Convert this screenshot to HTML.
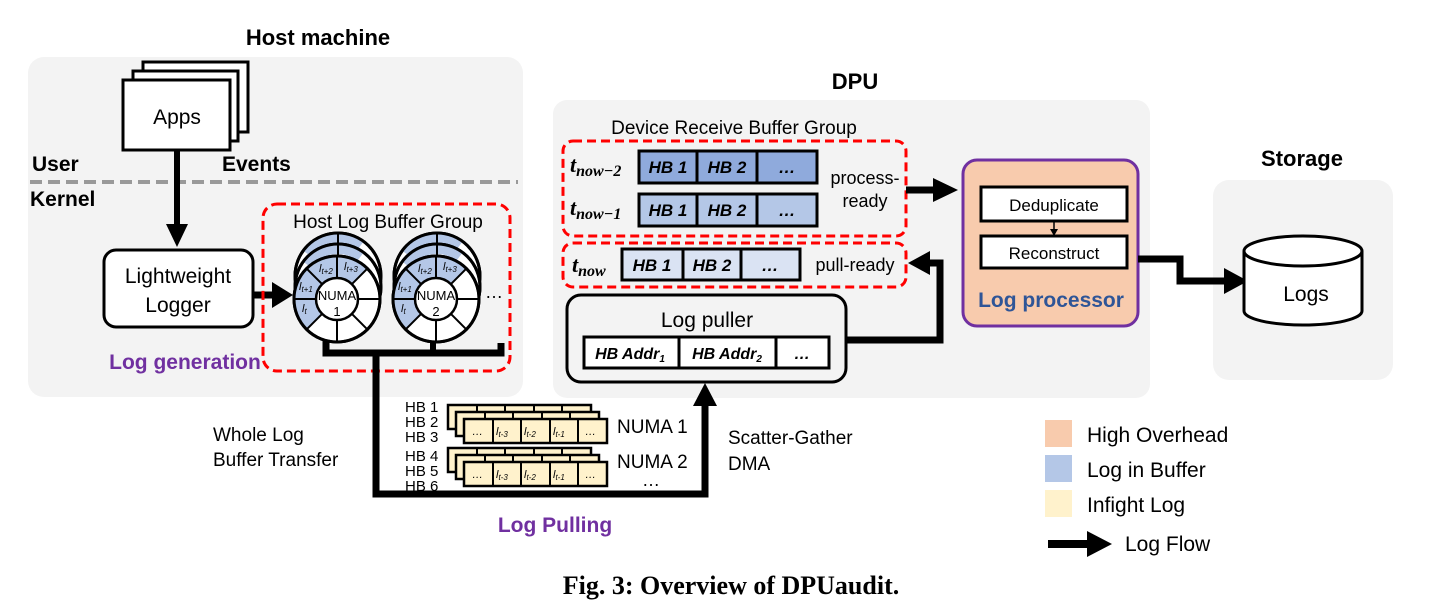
<!DOCTYPE html>
<html><head><meta charset="utf-8"><style>
html,body{margin:0;padding:0;background:#fff}
svg{display:block}
text{font-family:"Liberation Sans","DejaVu Sans",sans-serif}
.b{font-weight:bold}
.serif{font-family:"Liberation Serif",serif}
</style></head><body>
<svg width="1440" height="614" viewBox="0 0 1440 614" xmlns="http://www.w3.org/2000/svg">
<defs>
<g id="ring">
  <circle r="43" fill="#fff" stroke="#000" stroke-width="3"/>
  <circle r="31" fill="none" stroke="#b4c7e7" stroke-width="24" stroke-dasharray="97.4 97.4" stroke-dashoffset="-73"/>
  <circle r="43" fill="none" stroke="#000" stroke-width="3"/>
  <g stroke="#000" stroke-width="2">
    <line x1="21" y1="0" x2="43" y2="0"/><line x1="-21" y1="0" x2="-43" y2="0"/>
    <line x1="0" y1="21" x2="0" y2="43"/><line x1="0" y1="-21" x2="0" y2="-43"/>
    <line x1="14.8" y1="14.8" x2="30.4" y2="30.4"/><line x1="-14.8" y1="14.8" x2="-30.4" y2="30.4"/>
    <line x1="14.8" y1="-14.8" x2="30.4" y2="-30.4"/><line x1="-14.8" y1="-14.8" x2="-30.4" y2="-30.4"/>
  </g>
  <circle r="21" fill="#fff" stroke="#000" stroke-width="2.5"/>
</g>
<g id="ringback">
  <circle r="43" fill="#fff" stroke="#000" stroke-width="3"/>
  <circle r="38" fill="none" stroke="#b4c7e7" stroke-width="10" stroke-dasharray="0 143 60 200"/>
  <circle r="43" fill="none" stroke="#000" stroke-width="3"/>
  <line x1="0" y1="-43" x2="0" y2="-20" stroke="#000" stroke-width="2"/>
</g>
<g id="row">
  <rect x="0" y="0" width="143" height="24" fill="#fff2cc" stroke="#000" stroke-width="2.5"/>
  <g stroke="#000" stroke-width="2"><line x1="29" y1="0" x2="29" y2="24"/><line x1="57" y1="0" x2="57" y2="24"/><line x1="86" y1="0" x2="86" y2="24"/><line x1="114" y1="0" x2="114" y2="24"/></g>
</g>
</defs>

<!-- panels -->
<rect x="28" y="57" width="495" height="340" rx="16" fill="#f3f3f3"/>
<rect x="553" y="100" width="597" height="298" rx="14" fill="#f3f3f3"/>
<rect x="1213" y="180" width="180" height="200" rx="16" fill="#f3f3f3"/>

<text x="318" y="45" font-size="22" text-anchor="middle" class="b">Host machine</text>
<text x="855" y="89" font-size="22" text-anchor="middle" class="b">DPU</text>
<text x="1302" y="166" font-size="22" text-anchor="middle" class="b">Storage</text>

<!-- apps -->
<rect x="143" y="62" width="105" height="70" fill="#fff" stroke="#000" stroke-width="3"/>
<rect x="133" y="71" width="105" height="70" fill="#fff" stroke="#000" stroke-width="3"/>
<rect x="123" y="80" width="107" height="70" fill="#fff" stroke="#000" stroke-width="3"/>
<text x="177" y="124" font-size="21" text-anchor="middle">Apps</text>
<text x="32" y="171" font-size="21" class="b">User</text>
<text x="222" y="171" font-size="21" class="b">Events</text>
<line x1="30" y1="182" x2="518" y2="182" stroke="#999" stroke-width="4" stroke-dasharray="12 6"/>
<text x="30" y="206" font-size="21" class="b">Kernel</text>
<line x1="177" y1="150" x2="177" y2="225" stroke="#000" stroke-width="6"/>
<polygon points="166,224 188,224 177,247" fill="#000"/>

<rect x="104" y="250" width="149" height="77" rx="12" fill="#fff" stroke="#000" stroke-width="3"/>
<text x="178" y="283" font-size="21" text-anchor="middle">Lightweight</text>
<text x="178" y="312" font-size="21" text-anchor="middle">Logger</text>
<text x="185" y="369" font-size="21" text-anchor="middle" fill="#7030a0" class="b">Log generation</text>
<line x1="253" y1="295" x2="275" y2="295" stroke="#000" stroke-width="7"/>
<polygon points="272,282 293,295 272,308" fill="#000"/>

<!-- host log buffer group -->
<rect x="263" y="204" width="247" height="167" rx="14" fill="none" stroke="#f00" stroke-width="3" stroke-dasharray="9 5"/>
<text x="388" y="228" font-size="19" text-anchor="middle">Host Log Buffer Group</text>
<use href="#ringback" x="338" y="276"/>
<use href="#ringback" x="338" y="287"/>
<use href="#ring" x="337" y="299"/>
<use href="#ringback" x="437" y="276"/>
<use href="#ringback" x="437" y="287"/>
<use href="#ring" x="436" y="299"/>
<g font-size="11" font-style="italic">
<text x="319" y="272">l<tspan font-size="8" dy="2">t+2</tspan></text>
<text x="344" y="270">l<tspan font-size="8" dy="2">t+3</tspan></text>
<text x="299" y="290">l<tspan font-size="8" dy="2">t+1</tspan></text>
<text x="302" y="312">l<tspan font-size="8" dy="2">t</tspan></text>
<text x="418" y="272">l<tspan font-size="8" dy="2">t+2</tspan></text>
<text x="443" y="270">l<tspan font-size="8" dy="2">t+3</tspan></text>
<text x="398" y="290">l<tspan font-size="8" dy="2">t+1</tspan></text>
<text x="401" y="312">l<tspan font-size="8" dy="2">t</tspan></text>
</g>
<text x="337" y="300" font-size="13" text-anchor="middle">NUMA</text>
<text x="337" y="316" font-size="13" text-anchor="middle">1</text>
<text x="436" y="300" font-size="13" text-anchor="middle">NUMA</text>
<text x="436" y="316" font-size="13" text-anchor="middle">2</text>
<text x="485" y="298" font-size="18">…</text>

<!-- bus -->
<polyline points="326,340 326,353 501,353 501,343" fill="none" stroke="#000" stroke-width="7"/>
<line x1="433" y1="342" x2="433" y2="353" stroke="#000" stroke-width="6"/>
<polyline points="376,353 376,494 705,494 705,405" fill="none" stroke="#000" stroke-width="7"/>
<polygon points="693,406 717,406 705,383" fill="#000"/>

<text x="213" y="441" font-size="19">Whole Log</text>
<text x="213" y="466" font-size="19">Buffer Transfer</text>
<text x="728" y="444" font-size="19">Scatter-Gather</text>
<text x="728" y="470" font-size="19">DMA</text>
<text x="555" y="532" font-size="21" text-anchor="middle" fill="#7030a0" class="b">Log Pulling</text>

<!-- HB list -->
<g font-size="15">
<text x="405" y="412">HB 1</text><text x="405" y="427">HB 2</text><text x="405" y="442">HB 3</text>
<text x="405" y="461">HB 4</text><text x="405" y="476">HB 5</text><text x="405" y="491">HB 6</text>
</g>
<use href="#row" x="448" y="405"/><use href="#row" x="456" y="412"/><use href="#row" x="464" y="419"/>
<use href="#row" x="448" y="448"/><use href="#row" x="456" y="455"/><use href="#row" x="464" y="462"/>
<g font-size="11" font-style="italic">
<text x="472" y="435">…</text><text x="496" y="435">l<tspan font-size="8" dy="2">t-3</tspan></text><text x="524" y="435">l<tspan font-size="8" dy="2">t-2</tspan></text><text x="553" y="435">l<tspan font-size="8" dy="2">t-1</tspan></text><text x="585" y="435">…</text>
<text x="472" y="478">…</text><text x="496" y="478">l<tspan font-size="8" dy="2">t-3</tspan></text><text x="524" y="478">l<tspan font-size="8" dy="2">t-2</tspan></text><text x="553" y="478">l<tspan font-size="8" dy="2">t-1</tspan></text><text x="585" y="478">…</text>
</g>
<text x="617" y="433" font-size="19">NUMA 1</text>
<text x="617" y="468" font-size="19">NUMA 2</text>
<text x="642" y="486" font-size="18">…</text>

<!-- DPU -->
<text x="734" y="134" font-size="19" text-anchor="middle">Device Receive Buffer Group</text>
<rect x="563" y="141" width="343" height="95" rx="10" fill="none" stroke="#f00" stroke-width="3" stroke-dasharray="9 5"/>
<rect x="563" y="243" width="343" height="44" rx="10" fill="none" stroke="#f00" stroke-width="3" stroke-dasharray="9 5"/>
<g font-weight="bold" font-style="italic">
<text x="570" y="172" font-size="22" class="serif">t<tspan font-size="16" dy="4">now−2</tspan></text>
<text x="570" y="215" font-size="22" class="serif">t<tspan font-size="16" dy="4">now−1</tspan></text>
<text x="572" y="272" font-size="22" class="serif">t<tspan font-size="16" dy="4">now</tspan></text>
</g>
<g stroke="#000" stroke-width="3">
<rect x="639" y="151" width="178" height="32" fill="#8faadc"/>
<line x1="697" y1="151" x2="697" y2="183"/><line x1="757" y1="151" x2="757" y2="183"/>
<rect x="639" y="194" width="178" height="32" fill="#b4c7e7"/>
<line x1="697" y1="194" x2="697" y2="226"/><line x1="757" y1="194" x2="757" y2="226"/>
<rect x="622" y="249" width="178" height="31" fill="#dae3f3"/>
<line x1="683" y1="249" x2="683" y2="280"/><line x1="741" y1="249" x2="741" y2="280"/>
</g>
<g font-size="17" font-weight="bold" font-style="italic" text-anchor="middle">
<text x="668" y="173">HB 1</text><text x="727" y="173">HB 2</text><text x="787" y="173">…</text>
<text x="668" y="216">HB 1</text><text x="727" y="216">HB 2</text><text x="787" y="216">…</text>
<text x="652" y="271">HB 1</text><text x="712" y="271">HB 2</text><text x="770" y="271">…</text>
</g>
<text x="865" y="184" font-size="18" text-anchor="middle">process-</text>
<text x="865" y="207" font-size="18" text-anchor="middle">ready</text>
<text x="855" y="271" font-size="18" text-anchor="middle">pull-ready</text>

<rect x="567" y="295" width="279" height="87" rx="14" fill="#f3f3f3" stroke="#000" stroke-width="3"/>
<text x="707" y="327" font-size="21" text-anchor="middle">Log puller</text>
<rect x="584" y="337" width="245" height="31" fill="#fff" stroke="#000" stroke-width="3"/>
<line x1="679" y1="337" x2="679" y2="368" stroke="#000" stroke-width="3"/>
<line x1="776" y1="337" x2="776" y2="368" stroke="#000" stroke-width="3"/>
<g font-size="16" font-weight="bold" font-style="italic" text-anchor="middle">
<text x="630" y="359">HB Addr<tspan font-size="10" dy="3">1</tspan></text>
<text x="727" y="359">HB Addr<tspan font-size="10" dy="3">2</tspan></text>
<text x="802" y="359">…</text>
</g>
<polyline points="846,340 940,340 940,263 925,263" fill="none" stroke="#000" stroke-width="7"/>
<polygon points="930,251 930,275 908,263" fill="#000"/>
<line x1="906" y1="190" x2="940" y2="190" stroke="#000" stroke-width="7"/>
<polygon points="933,178 933,202 958,190" fill="#000"/>

<!-- log processor -->
<rect x="963" y="160" width="175" height="166" rx="14" fill="#f8cbad" stroke="#7030a0" stroke-width="3"/>
<rect x="981" y="187" width="146" height="34" fill="#fff" stroke="#000" stroke-width="3"/>
<text x="1054" y="211" font-size="17" text-anchor="middle">Deduplicate</text>
<line x1="1054" y1="221" x2="1054" y2="230" stroke="#000" stroke-width="1.5"/>
<polygon points="1050,229 1058,229 1054,236" fill="#000"/>
<rect x="981" y="236" width="146" height="32" fill="#fff" stroke="#000" stroke-width="3"/>
<text x="1054" y="259" font-size="17" text-anchor="middle">Reconstruct</text>
<text x="1051" y="307" font-size="21" text-anchor="middle" fill="#2f5597" class="b">Log processor</text>
<polyline points="1138,259 1180,259 1180,281 1228,281" fill="none" stroke="#000" stroke-width="7"/>
<polygon points="1224,268 1224,294 1248,281" fill="#000"/>

<!-- cylinder -->
<path d="M1244,251 L1244,311 A59,14 0 0 0 1362,311 L1362,251" fill="#fff" stroke="#000" stroke-width="3"/>
<ellipse cx="1303" cy="251" rx="59" ry="15" fill="#fff" stroke="#000" stroke-width="3"/>
<text x="1306" y="301" font-size="21" text-anchor="middle">Logs</text>

<!-- legend -->
<rect x="1045" y="420" width="27" height="27" fill="#f8cbad"/>
<rect x="1045" y="455" width="27" height="27" fill="#b4c7e7"/>
<rect x="1045" y="490" width="27" height="27" fill="#fff2cc"/>
<text x="1087" y="442" font-size="21">High Overhead</text>
<text x="1087" y="477" font-size="21">Log in Buffer</text>
<text x="1087" y="512" font-size="21">Infight Log</text>
<line x1="1048" y1="544" x2="1090" y2="544" stroke="#000" stroke-width="8"/>
<polygon points="1087,531 1087,557 1112,544" fill="#000"/>
<text x="1125" y="551" font-size="21">Log Flow</text>

<text x="731" y="594" font-size="26" text-anchor="middle" class="serif b">Fig. 3: Overview of DPUaudit.</text>
</svg>
</body></html>
